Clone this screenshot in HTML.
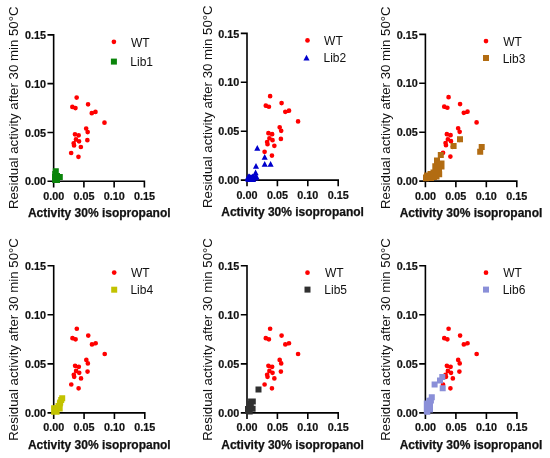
<!DOCTYPE html>
<html><head><meta charset="utf-8"><style>
html,body{margin:0;padding:0;background:#fff;}
svg{display:block;will-change:transform;}
text{font-family:"Liberation Sans",sans-serif;fill:#111;}
.yl{font-size:13.25px;}
.tk{font-size:10.8px;font-weight:bold;stroke:#111;stroke-width:0.2px;}
.xl{font-size:12px;font-weight:bold;stroke:#111;stroke-width:0.25px;}
.lg{font-size:12px;}
.ax{stroke:#000;stroke-width:1.6;fill:none;stroke-linecap:butt;}
</style></head><body>
<svg width="550" height="458" viewBox="0 0 550 458">
<rect width="550" height="458" fill="#fff"/>
<g>
<text class="yl" transform="translate(18.30,107.75) rotate(-90)" text-anchor="middle">Residual activity after 30 min 50°C</text>
<path d="M47.45 34.90H53.65V187.40M47.45 181.20H144.40V187.40M47.45 132.43H53.65M83.90 181.20V187.40M47.45 83.67H53.65M114.15 181.20V187.40" class="ax"/>
<text class="tk" x="45.95" y="185.30" text-anchor="end">0.00</text>
<text class="tk" x="53.65" y="199.70" text-anchor="middle">0.00</text>
<text class="tk" x="45.95" y="136.53" text-anchor="end">0.05</text>
<text class="tk" x="83.90" y="199.70" text-anchor="middle">0.05</text>
<text class="tk" x="45.95" y="87.77" text-anchor="end">0.10</text>
<text class="tk" x="114.15" y="199.70" text-anchor="middle">0.10</text>
<text class="tk" x="45.95" y="39.00" text-anchor="end">0.15</text>
<text class="tk" x="144.40" y="199.70" text-anchor="middle">0.15</text>
<text class="xl" x="99.25" y="217.30" text-anchor="middle">Activity 30% isopropanol</text>
<path d="M111.55 41.80a2.35 2.35 0 1 0 4.7 0a2.35 2.35 0 1 0 -4.7 0z" fill="#ff0000"/>
<path d="M110.90 58.60h6.0v6.0h-6.0z" fill="#0a840a"/>
<text class="lg" x="130.90" y="46.70">WT</text>
<text class="lg" x="130.30" y="66.30">Lib1</text>
<path d="M74.31 97.54a2.35 2.35 0 1 0 4.7 0a2.35 2.35 0 1 0 -4.7 0zM70.01 106.95a2.35 2.35 0 1 0 4.7 0a2.35 2.35 0 1 0 -4.7 0zM73.11 108.05a2.35 2.35 0 1 0 4.7 0a2.35 2.35 0 1 0 -4.7 0zM85.72 104.35a2.35 2.35 0 1 0 4.7 0a2.35 2.35 0 1 0 -4.7 0zM89.42 113.15a2.35 2.35 0 1 0 4.7 0a2.35 2.35 0 1 0 -4.7 0zM93.12 111.95a2.35 2.35 0 1 0 4.7 0a2.35 2.35 0 1 0 -4.7 0zM102.13 122.66a2.35 2.35 0 1 0 4.7 0a2.35 2.35 0 1 0 -4.7 0zM83.82 128.56a2.35 2.35 0 1 0 4.7 0a2.35 2.35 0 1 0 -4.7 0zM85.32 132.07a2.35 2.35 0 1 0 4.7 0a2.35 2.35 0 1 0 -4.7 0zM72.61 134.37a2.35 2.35 0 1 0 4.7 0a2.35 2.35 0 1 0 -4.7 0zM76.31 135.37a2.35 2.35 0 1 0 4.7 0a2.35 2.35 0 1 0 -4.7 0zM73.61 139.47a2.35 2.35 0 1 0 4.7 0a2.35 2.35 0 1 0 -4.7 0zM76.71 141.37a2.35 2.35 0 1 0 4.7 0a2.35 2.35 0 1 0 -4.7 0zM71.31 143.27a2.35 2.35 0 1 0 4.7 0a2.35 2.35 0 1 0 -4.7 0zM71.71 145.38a2.35 2.35 0 1 0 4.7 0a2.35 2.35 0 1 0 -4.7 0zM85.02 140.17a2.35 2.35 0 1 0 4.7 0a2.35 2.35 0 1 0 -4.7 0zM78.51 146.98a2.35 2.35 0 1 0 4.7 0a2.35 2.35 0 1 0 -4.7 0zM68.81 152.98a2.35 2.35 0 1 0 4.7 0a2.35 2.35 0 1 0 -4.7 0zM76.11 156.78a2.35 2.35 0 1 0 4.7 0a2.35 2.35 0 1 0 -4.7 0z" fill="#ff0000"/>
<path d="M52.80 168.20h6.0v6.0h-6.0zM52.20 171.00h6.0v6.0h-6.0zM52.00 174.00h6.0v6.0h-6.0zM52.20 177.00h6.0v6.0h-6.0zM56.80 174.00h6.0v6.0h-6.0zM54.00 177.00h6.0v6.0h-6.0zM54.00 173.00h6.0v6.0h-6.0z" fill="#0a840a"/>
</g>
<g>
<text class="yl" transform="translate(211.65,106.65) rotate(-90)" text-anchor="middle">Residual activity after 30 min 50°C</text>
<path d="M240.80 33.40H247.00V186.30M240.80 180.10H338.20V186.30M240.80 131.20H247.00M277.40 180.10V186.30M240.80 82.30H247.00M307.80 180.10V186.30" class="ax"/>
<text class="tk" x="239.30" y="184.20" text-anchor="end">0.00</text>
<text class="tk" x="247.00" y="198.60" text-anchor="middle">0.00</text>
<text class="tk" x="239.30" y="135.30" text-anchor="end">0.05</text>
<text class="tk" x="277.40" y="198.60" text-anchor="middle">0.05</text>
<text class="tk" x="239.30" y="86.40" text-anchor="end">0.10</text>
<text class="tk" x="307.80" y="198.60" text-anchor="middle">0.10</text>
<text class="tk" x="239.30" y="37.50" text-anchor="end">0.15</text>
<text class="tk" x="338.20" y="198.60" text-anchor="middle">0.15</text>
<text class="xl" x="292.60" y="216.20" text-anchor="middle">Activity 30% isopropanol</text>
<path d="M305.15 40.40a2.35 2.35 0 1 0 4.7 0a2.35 2.35 0 1 0 -4.7 0z" fill="#ff0000"/>
<path d="M306.50 54.80L309.55 60.60L303.45 60.60Z" fill="#0000cc"/>
<text class="lg" x="324.10" y="45.20">WT</text>
<text class="lg" x="323.50" y="62.30">Lib2</text>
<path d="M267.78 96.21a2.35 2.35 0 1 0 4.7 0a2.35 2.35 0 1 0 -4.7 0zM263.45 105.65a2.35 2.35 0 1 0 4.7 0a2.35 2.35 0 1 0 -4.7 0zM266.57 106.75a2.35 2.35 0 1 0 4.7 0a2.35 2.35 0 1 0 -4.7 0zM279.24 103.04a2.35 2.35 0 1 0 4.7 0a2.35 2.35 0 1 0 -4.7 0zM282.96 111.87a2.35 2.35 0 1 0 4.7 0a2.35 2.35 0 1 0 -4.7 0zM286.68 110.66a2.35 2.35 0 1 0 4.7 0a2.35 2.35 0 1 0 -4.7 0zM295.73 121.40a2.35 2.35 0 1 0 4.7 0a2.35 2.35 0 1 0 -4.7 0zM277.33 127.32a2.35 2.35 0 1 0 4.7 0a2.35 2.35 0 1 0 -4.7 0zM278.84 130.83a2.35 2.35 0 1 0 4.7 0a2.35 2.35 0 1 0 -4.7 0zM266.07 133.14a2.35 2.35 0 1 0 4.7 0a2.35 2.35 0 1 0 -4.7 0zM269.79 134.14a2.35 2.35 0 1 0 4.7 0a2.35 2.35 0 1 0 -4.7 0zM267.07 138.26a2.35 2.35 0 1 0 4.7 0a2.35 2.35 0 1 0 -4.7 0zM270.19 140.16a2.35 2.35 0 1 0 4.7 0a2.35 2.35 0 1 0 -4.7 0zM264.76 142.07a2.35 2.35 0 1 0 4.7 0a2.35 2.35 0 1 0 -4.7 0zM265.16 144.18a2.35 2.35 0 1 0 4.7 0a2.35 2.35 0 1 0 -4.7 0zM278.54 138.96a2.35 2.35 0 1 0 4.7 0a2.35 2.35 0 1 0 -4.7 0zM272.00 145.78a2.35 2.35 0 1 0 4.7 0a2.35 2.35 0 1 0 -4.7 0zM262.25 151.80a2.35 2.35 0 1 0 4.7 0a2.35 2.35 0 1 0 -4.7 0zM269.59 155.62a2.35 2.35 0 1 0 4.7 0a2.35 2.35 0 1 0 -4.7 0z" fill="#ff0000"/>
<path d="M257.30 144.90L260.35 150.70L254.25 150.70ZM264.70 154.00L267.75 159.80L261.65 159.80ZM264.70 161.00L267.75 166.80L261.65 166.80ZM270.60 161.00L273.65 166.80L267.55 166.80ZM256.00 163.00L259.05 168.80L252.95 168.80ZM255.60 169.40L258.65 175.20L252.55 175.20ZM256.50 173.60L259.55 179.40L253.45 179.40ZM248.30 175.90L251.35 181.70L245.25 181.70ZM249.80 175.90L252.85 181.70L246.75 181.70ZM251.00 174.10L254.05 179.90L247.95 179.90ZM253.50 174.10L256.55 179.90L250.45 179.90ZM250.00 176.10L253.05 181.90L246.95 181.90ZM253.00 176.10L256.05 181.90L249.95 181.90ZM249.50 173.40L252.55 179.20L246.45 179.20ZM252.50 173.40L255.55 179.20L249.45 179.20ZM254.00 173.90L257.05 179.70L250.95 179.70ZM255.30 174.70L258.35 180.50L252.25 180.50ZM247.80 174.90L250.85 180.70L244.75 180.70ZM248.30 173.40L251.35 179.20L245.25 179.20Z" fill="#0000cc"/>
</g>
<g>
<text class="yl" transform="translate(390.05,107.65) rotate(-90)" text-anchor="middle">Residual activity after 30 min 50°C</text>
<path d="M419.20 34.40H425.40V187.30M419.20 181.10H516.80V187.30M419.20 132.20H425.40M455.87 181.10V187.30M419.20 83.30H425.40M486.33 181.10V187.30" class="ax"/>
<text class="tk" x="417.70" y="185.20" text-anchor="end">0.00</text>
<text class="tk" x="425.40" y="199.60" text-anchor="middle">0.00</text>
<text class="tk" x="417.70" y="136.30" text-anchor="end">0.05</text>
<text class="tk" x="455.87" y="199.60" text-anchor="middle">0.05</text>
<text class="tk" x="417.70" y="87.40" text-anchor="end">0.10</text>
<text class="tk" x="486.33" y="199.60" text-anchor="middle">0.10</text>
<text class="tk" x="417.70" y="38.50" text-anchor="end">0.15</text>
<text class="tk" x="516.80" y="199.60" text-anchor="middle">0.15</text>
<text class="xl" x="471.00" y="217.20" text-anchor="middle">Activity 30% isopropanol</text>
<path d="M483.65 41.10a2.35 2.35 0 1 0 4.7 0a2.35 2.35 0 1 0 -4.7 0z" fill="#ff0000"/>
<path d="M483.00 55.00h6.0v6.0h-6.0z" fill="#b26c12"/>
<text class="lg" x="503.30" y="46.00">WT</text>
<text class="lg" x="502.70" y="63.20">Lib3</text>
<path d="M446.23 97.21a2.35 2.35 0 1 0 4.7 0a2.35 2.35 0 1 0 -4.7 0zM441.89 106.65a2.35 2.35 0 1 0 4.7 0a2.35 2.35 0 1 0 -4.7 0zM445.02 107.75a2.35 2.35 0 1 0 4.7 0a2.35 2.35 0 1 0 -4.7 0zM457.72 104.04a2.35 2.35 0 1 0 4.7 0a2.35 2.35 0 1 0 -4.7 0zM461.44 112.87a2.35 2.35 0 1 0 4.7 0a2.35 2.35 0 1 0 -4.7 0zM465.17 111.66a2.35 2.35 0 1 0 4.7 0a2.35 2.35 0 1 0 -4.7 0zM474.24 122.40a2.35 2.35 0 1 0 4.7 0a2.35 2.35 0 1 0 -4.7 0zM455.80 128.32a2.35 2.35 0 1 0 4.7 0a2.35 2.35 0 1 0 -4.7 0zM457.31 131.83a2.35 2.35 0 1 0 4.7 0a2.35 2.35 0 1 0 -4.7 0zM444.51 134.14a2.35 2.35 0 1 0 4.7 0a2.35 2.35 0 1 0 -4.7 0zM448.24 135.14a2.35 2.35 0 1 0 4.7 0a2.35 2.35 0 1 0 -4.7 0zM445.52 139.26a2.35 2.35 0 1 0 4.7 0a2.35 2.35 0 1 0 -4.7 0zM448.65 141.16a2.35 2.35 0 1 0 4.7 0a2.35 2.35 0 1 0 -4.7 0zM443.20 143.07a2.35 2.35 0 1 0 4.7 0a2.35 2.35 0 1 0 -4.7 0zM443.61 145.18a2.35 2.35 0 1 0 4.7 0a2.35 2.35 0 1 0 -4.7 0zM457.01 139.96a2.35 2.35 0 1 0 4.7 0a2.35 2.35 0 1 0 -4.7 0zM450.46 146.78a2.35 2.35 0 1 0 4.7 0a2.35 2.35 0 1 0 -4.7 0zM440.69 152.80a2.35 2.35 0 1 0 4.7 0a2.35 2.35 0 1 0 -4.7 0zM448.04 156.62a2.35 2.35 0 1 0 4.7 0a2.35 2.35 0 1 0 -4.7 0z" fill="#ff0000"/>
<path d="M457.00 136.30h6.0v6.0h-6.0zM450.60 143.00h6.0v6.0h-6.0zM478.70 143.90h6.0v6.0h-6.0zM477.20 148.80h6.0v6.0h-6.0zM437.80 151.90h6.0v6.0h-6.0zM434.00 157.50h6.0v6.0h-6.0zM438.50 160.50h6.0v6.0h-6.0zM438.50 163.50h6.0v6.0h-6.0zM432.30 163.30h6.0v6.0h-6.0zM432.30 166.00h6.0v6.0h-6.0zM433.00 170.50h6.0v6.0h-6.0zM436.00 170.50h6.0v6.0h-6.0zM423.00 174.50h6.0v6.0h-6.0zM426.00 174.00h6.0v6.0h-6.0zM429.00 173.00h6.0v6.0h-6.0zM431.00 174.00h6.0v6.0h-6.0zM425.50 175.00h6.0v6.0h-6.0zM428.00 175.00h6.0v6.0h-6.0zM423.00 175.20h6.0v6.0h-6.0zM436.00 167.00h6.0v6.0h-6.0zM436.20 171.30h6.0v6.0h-6.0zM424.00 172.50h6.0v6.0h-6.0zM427.50 171.00h6.0v6.0h-6.0zM430.50 169.50h6.0v6.0h-6.0zM433.50 173.50h6.0v6.0h-6.0zM435.50 162.00h6.0v6.0h-6.0z" fill="#b26c12"/>
</g>
<g>
<text class="yl" transform="translate(18.35,339.40) rotate(-90)" text-anchor="middle">Residual activity after 30 min 50°C</text>
<path d="M47.50 265.80H53.70V419.05M47.50 412.85H144.80V419.05M47.50 363.83H53.70M84.07 412.85V419.05M47.50 314.82H53.70M114.43 412.85V419.05" class="ax"/>
<text class="tk" x="46.00" y="416.95" text-anchor="end">0.00</text>
<text class="tk" x="53.70" y="431.35" text-anchor="middle">0.00</text>
<text class="tk" x="46.00" y="367.93" text-anchor="end">0.05</text>
<text class="tk" x="84.07" y="431.35" text-anchor="middle">0.05</text>
<text class="tk" x="46.00" y="318.92" text-anchor="end">0.10</text>
<text class="tk" x="114.43" y="431.35" text-anchor="middle">0.10</text>
<text class="tk" x="46.00" y="269.90" text-anchor="end">0.15</text>
<text class="tk" x="144.80" y="431.35" text-anchor="middle">0.15</text>
<text class="xl" x="99.30" y="448.95" text-anchor="middle">Activity 30% isopropanol</text>
<path d="M111.85 272.60a2.35 2.35 0 1 0 4.7 0a2.35 2.35 0 1 0 -4.7 0z" fill="#ff0000"/>
<path d="M111.20 286.70h6.0v6.0h-6.0z" fill="#c2c200"/>
<text class="lg" x="131.00" y="277.40">WT</text>
<text class="lg" x="130.40" y="294.30">Lib4</text>
<path d="M74.45 328.76a2.35 2.35 0 1 0 4.7 0a2.35 2.35 0 1 0 -4.7 0zM70.13 338.22a2.35 2.35 0 1 0 4.7 0a2.35 2.35 0 1 0 -4.7 0zM73.25 339.33a2.35 2.35 0 1 0 4.7 0a2.35 2.35 0 1 0 -4.7 0zM85.90 335.60a2.35 2.35 0 1 0 4.7 0a2.35 2.35 0 1 0 -4.7 0zM89.62 344.45a2.35 2.35 0 1 0 4.7 0a2.35 2.35 0 1 0 -4.7 0zM93.33 343.25a2.35 2.35 0 1 0 4.7 0a2.35 2.35 0 1 0 -4.7 0zM102.37 354.01a2.35 2.35 0 1 0 4.7 0a2.35 2.35 0 1 0 -4.7 0zM83.99 359.94a2.35 2.35 0 1 0 4.7 0a2.35 2.35 0 1 0 -4.7 0zM85.50 363.46a2.35 2.35 0 1 0 4.7 0a2.35 2.35 0 1 0 -4.7 0zM72.74 365.78a2.35 2.35 0 1 0 4.7 0a2.35 2.35 0 1 0 -4.7 0zM76.46 366.78a2.35 2.35 0 1 0 4.7 0a2.35 2.35 0 1 0 -4.7 0zM73.75 370.91a2.35 2.35 0 1 0 4.7 0a2.35 2.35 0 1 0 -4.7 0zM76.86 372.82a2.35 2.35 0 1 0 4.7 0a2.35 2.35 0 1 0 -4.7 0zM71.44 374.73a2.35 2.35 0 1 0 4.7 0a2.35 2.35 0 1 0 -4.7 0zM71.84 376.84a2.35 2.35 0 1 0 4.7 0a2.35 2.35 0 1 0 -4.7 0zM85.20 371.61a2.35 2.35 0 1 0 4.7 0a2.35 2.35 0 1 0 -4.7 0zM78.67 378.45a2.35 2.35 0 1 0 4.7 0a2.35 2.35 0 1 0 -4.7 0zM68.93 384.49a2.35 2.35 0 1 0 4.7 0a2.35 2.35 0 1 0 -4.7 0zM76.26 388.31a2.35 2.35 0 1 0 4.7 0a2.35 2.35 0 1 0 -4.7 0z" fill="#ff0000"/>
<path d="M59.20 395.20h6.0v6.0h-6.0zM58.20 397.00h6.0v6.0h-6.0zM57.20 399.50h6.0v6.0h-6.0zM56.90 400.50h6.0v6.0h-6.0zM56.70 405.40h6.0v6.0h-6.0zM53.60 405.00h6.0v6.0h-6.0zM51.10 405.30h6.0v6.0h-6.0zM51.10 408.80h6.0v6.0h-6.0zM53.60 408.80h6.0v6.0h-6.0zM55.50 403.00h6.0v6.0h-6.0z" fill="#c2c200"/>
</g>
<g>
<text class="yl" transform="translate(211.65,339.40) rotate(-90)" text-anchor="middle">Residual activity after 30 min 50°C</text>
<path d="M240.80 265.80H247.00V419.05M240.80 412.85H338.20V419.05M240.80 363.83H247.00M277.40 412.85V419.05M240.80 314.82H247.00M307.80 412.85V419.05" class="ax"/>
<text class="tk" x="239.30" y="416.95" text-anchor="end">0.00</text>
<text class="tk" x="247.00" y="431.35" text-anchor="middle">0.00</text>
<text class="tk" x="239.30" y="367.93" text-anchor="end">0.05</text>
<text class="tk" x="277.40" y="431.35" text-anchor="middle">0.05</text>
<text class="tk" x="239.30" y="318.92" text-anchor="end">0.10</text>
<text class="tk" x="307.80" y="431.35" text-anchor="middle">0.10</text>
<text class="tk" x="239.30" y="269.90" text-anchor="end">0.15</text>
<text class="tk" x="338.20" y="431.35" text-anchor="middle">0.15</text>
<text class="xl" x="292.60" y="448.95" text-anchor="middle">Activity 30% isopropanol</text>
<path d="M305.15 272.70a2.35 2.35 0 1 0 4.7 0a2.35 2.35 0 1 0 -4.7 0z" fill="#ff0000"/>
<path d="M304.50 286.60h6.0v6.0h-6.0z" fill="#303030"/>
<text class="lg" x="324.90" y="277.40">WT</text>
<text class="lg" x="324.30" y="294.30">Lib5</text>
<path d="M267.78 328.76a2.35 2.35 0 1 0 4.7 0a2.35 2.35 0 1 0 -4.7 0zM263.45 338.22a2.35 2.35 0 1 0 4.7 0a2.35 2.35 0 1 0 -4.7 0zM266.57 339.33a2.35 2.35 0 1 0 4.7 0a2.35 2.35 0 1 0 -4.7 0zM279.24 335.60a2.35 2.35 0 1 0 4.7 0a2.35 2.35 0 1 0 -4.7 0zM282.96 344.45a2.35 2.35 0 1 0 4.7 0a2.35 2.35 0 1 0 -4.7 0zM286.68 343.25a2.35 2.35 0 1 0 4.7 0a2.35 2.35 0 1 0 -4.7 0zM295.73 354.01a2.35 2.35 0 1 0 4.7 0a2.35 2.35 0 1 0 -4.7 0zM277.33 359.94a2.35 2.35 0 1 0 4.7 0a2.35 2.35 0 1 0 -4.7 0zM278.84 363.46a2.35 2.35 0 1 0 4.7 0a2.35 2.35 0 1 0 -4.7 0zM266.07 365.78a2.35 2.35 0 1 0 4.7 0a2.35 2.35 0 1 0 -4.7 0zM269.79 366.78a2.35 2.35 0 1 0 4.7 0a2.35 2.35 0 1 0 -4.7 0zM267.07 370.91a2.35 2.35 0 1 0 4.7 0a2.35 2.35 0 1 0 -4.7 0zM270.19 372.82a2.35 2.35 0 1 0 4.7 0a2.35 2.35 0 1 0 -4.7 0zM264.76 374.73a2.35 2.35 0 1 0 4.7 0a2.35 2.35 0 1 0 -4.7 0zM265.16 376.84a2.35 2.35 0 1 0 4.7 0a2.35 2.35 0 1 0 -4.7 0zM278.54 371.61a2.35 2.35 0 1 0 4.7 0a2.35 2.35 0 1 0 -4.7 0zM272.00 378.45a2.35 2.35 0 1 0 4.7 0a2.35 2.35 0 1 0 -4.7 0zM262.25 384.49a2.35 2.35 0 1 0 4.7 0a2.35 2.35 0 1 0 -4.7 0zM269.59 388.31a2.35 2.35 0 1 0 4.7 0a2.35 2.35 0 1 0 -4.7 0z" fill="#ff0000"/>
<path d="M255.50 386.40h6.0v6.0h-6.0zM248.10 398.40h6.0v6.0h-6.0zM249.80 398.40h6.0v6.0h-6.0zM247.80 401.00h6.0v6.0h-6.0zM245.00 406.00h6.0v6.0h-6.0zM249.60 405.70h6.0v6.0h-6.0zM246.70 408.50h6.0v6.0h-6.0zM245.00 408.00h6.0v6.0h-6.0z" fill="#303030"/>
</g>
<g>
<text class="yl" transform="translate(390.05,339.40) rotate(-90)" text-anchor="middle">Residual activity after 30 min 50°C</text>
<path d="M419.20 265.80H425.40V419.05M419.20 412.85H516.90V419.05M419.20 363.83H425.40M455.90 412.85V419.05M419.20 314.82H425.40M486.40 412.85V419.05" class="ax"/>
<text class="tk" x="417.70" y="416.95" text-anchor="end">0.00</text>
<text class="tk" x="425.40" y="431.35" text-anchor="middle">0.00</text>
<text class="tk" x="417.70" y="367.93" text-anchor="end">0.05</text>
<text class="tk" x="455.90" y="431.35" text-anchor="middle">0.05</text>
<text class="tk" x="417.70" y="318.92" text-anchor="end">0.10</text>
<text class="tk" x="486.40" y="431.35" text-anchor="middle">0.10</text>
<text class="tk" x="417.70" y="269.90" text-anchor="end">0.15</text>
<text class="tk" x="516.90" y="431.35" text-anchor="middle">0.15</text>
<text class="xl" x="471.00" y="448.95" text-anchor="middle">Activity 30% isopropanol</text>
<path d="M483.65 272.70a2.35 2.35 0 1 0 4.7 0a2.35 2.35 0 1 0 -4.7 0z" fill="#ff0000"/>
<path d="M483.00 286.60h6.0v6.0h-6.0z" fill="#8a8fd8"/>
<text class="lg" x="503.30" y="277.40">WT</text>
<text class="lg" x="502.70" y="294.30">Lib6</text>
<path d="M446.25 328.76a2.35 2.35 0 1 0 4.7 0a2.35 2.35 0 1 0 -4.7 0zM441.91 338.22a2.35 2.35 0 1 0 4.7 0a2.35 2.35 0 1 0 -4.7 0zM445.04 339.33a2.35 2.35 0 1 0 4.7 0a2.35 2.35 0 1 0 -4.7 0zM457.75 335.60a2.35 2.35 0 1 0 4.7 0a2.35 2.35 0 1 0 -4.7 0zM461.49 344.45a2.35 2.35 0 1 0 4.7 0a2.35 2.35 0 1 0 -4.7 0zM465.22 343.25a2.35 2.35 0 1 0 4.7 0a2.35 2.35 0 1 0 -4.7 0zM474.30 354.01a2.35 2.35 0 1 0 4.7 0a2.35 2.35 0 1 0 -4.7 0zM455.84 359.94a2.35 2.35 0 1 0 4.7 0a2.35 2.35 0 1 0 -4.7 0zM457.35 363.46a2.35 2.35 0 1 0 4.7 0a2.35 2.35 0 1 0 -4.7 0zM444.54 365.78a2.35 2.35 0 1 0 4.7 0a2.35 2.35 0 1 0 -4.7 0zM448.27 366.78a2.35 2.35 0 1 0 4.7 0a2.35 2.35 0 1 0 -4.7 0zM445.55 370.91a2.35 2.35 0 1 0 4.7 0a2.35 2.35 0 1 0 -4.7 0zM448.67 372.82a2.35 2.35 0 1 0 4.7 0a2.35 2.35 0 1 0 -4.7 0zM443.23 374.73a2.35 2.35 0 1 0 4.7 0a2.35 2.35 0 1 0 -4.7 0zM443.63 376.84a2.35 2.35 0 1 0 4.7 0a2.35 2.35 0 1 0 -4.7 0zM457.05 371.61a2.35 2.35 0 1 0 4.7 0a2.35 2.35 0 1 0 -4.7 0zM450.49 378.45a2.35 2.35 0 1 0 4.7 0a2.35 2.35 0 1 0 -4.7 0zM440.70 384.49a2.35 2.35 0 1 0 4.7 0a2.35 2.35 0 1 0 -4.7 0zM448.07 388.31a2.35 2.35 0 1 0 4.7 0a2.35 2.35 0 1 0 -4.7 0z" fill="#ff0000"/>
<path d="M439.30 374.00h6.0v6.0h-6.0zM437.00 377.50h6.0v6.0h-6.0zM431.60 381.40h6.0v6.0h-6.0zM439.70 385.20h6.0v6.0h-6.0zM428.80 394.30h6.0v6.0h-6.0zM427.90 397.50h6.0v6.0h-6.0zM426.30 397.80h6.0v6.0h-6.0zM423.80 400.40h6.0v6.0h-6.0zM427.00 403.00h6.0v6.0h-6.0zM427.00 406.60h6.0v6.0h-6.0zM423.80 403.50h6.0v6.0h-6.0zM423.80 407.80h6.0v6.0h-6.0zM424.30 408.70h6.0v6.0h-6.0zM425.50 401.00h6.0v6.0h-6.0z" fill="#8a8fd8"/>
</g>
</svg>
</body></html>
